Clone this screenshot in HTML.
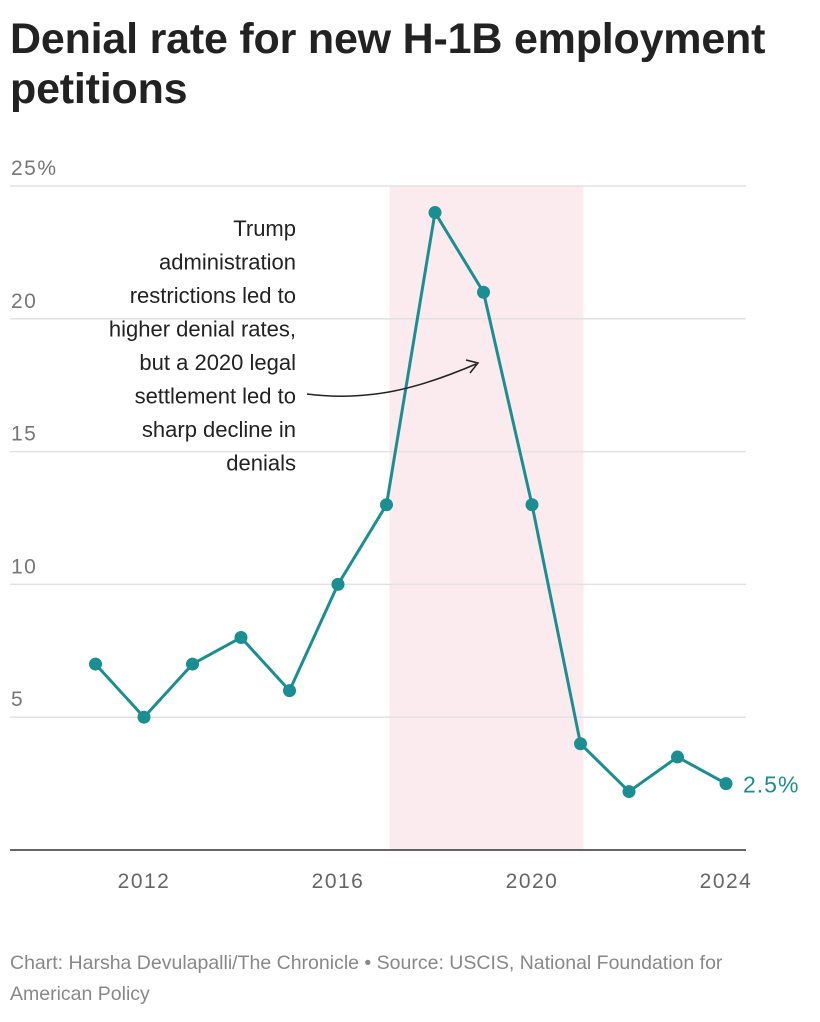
<!DOCTYPE html>
<html><head><meta charset="utf-8"><style>
body{margin:0;width:820px;height:1022px;background:#fff;font-family:"Liberation Sans",sans-serif;overflow:hidden}
h1{position:absolute;left:10px;top:14px;margin:0;font-size:43px;line-height:50px;font-weight:bold;color:#222;letter-spacing:-0.2px;width:800px}
.src{position:absolute;left:10px;top:948px;font-size:19.5px;line-height:31px;color:#888;width:785px}
</style></head><body>
<h1>Denial rate for new H-1B employment petitions</h1>
<svg id="c" width="820" height="1022" style="position:absolute;left:0;top:0"></svg>
<div class="src">Chart: Harsha Devulapalli/The Chronicle • Source: USCIS, National Foundation for American Policy</div>
<script>
const years=[2011,2012,2013,2014,2015,2016,2017,2018,2019,2020,2021,2022,2023,2024];
const rates=[7,5,7,8,6,10,13,24,21,13,4,2.2,3.5,2.5];
const yTicks=[5,10,15,20,25];
const yTickLabels=["5","10","15","20","25%"];
const xTicks=[2012,2016,2020,2024];
const shade=[2017,2021];
const note=["Trump","administration","restrictions led to","higher denial rates,","but a 2020 legal","settlement led to","sharp decline in","denials"];
const NS="http://www.w3.org/2000/svg";
const svg=document.getElementById('c');
const x=v=>144+(v-2012)*48.5;
const y=v=>850-v*26.56;
function mk(t,a,p){const e=document.createElementNS(NS,t);for(const k in a)e.setAttribute(k,a[k]);(p||svg).appendChild(e);return e;}
let r=mk('rect',{x:x(shade[0])+3,y:y(25),width:x(shade[1])-x(shade[0]),height:y(0)-y(25),fill:'#fbebee'});


yTicks.forEach((t,i)=>{
 let l=mk('line',{x1:10,x2:746,y1:y(t),y2:y(t),stroke:'#e2e2e2','stroke-width':1.5});
 
 
 let tx=mk('text',{x:11,y:y(t)-11,'font-size':21,fill:'#777','letter-spacing':'1.5'});tx.textContent=yTickLabels[i];
 
 
});
let ax=mk('line',{x1:10,x2:746,y1:y(0),y2:y(0),stroke:'#333','stroke-width':1.5});


xTicks.forEach(t=>{
 let tx=mk('text',{x:x(t),y:888,'font-size':21,fill:'#666','text-anchor':'middle','letter-spacing':'1.5'});tx.textContent=t;
 
 
});
let pl=mk('polyline',{points:years.map((v,i)=>x(v)+','+y(rates[i])).join(' '),fill:'none',stroke:'#1a8e91','stroke-width':3,'stroke-linejoin':'round'});


years.forEach((v,i)=>{
 let c=mk('circle',{cx:x(v),cy:y(rates[i]),r:6.5,fill:'#1a8e91'});
 
 
});
let lb=mk('text',{x:x(years[years.length-1])+17,y:y(rates[rates.length-1])+9,'font-size':23,fill:'#1a8e91','letter-spacing':'1'});
lb.textContent=rates[rates.length-1]+'%';


note.forEach((s,i)=>{
 let t=mk('text',{x:296,y:236+i*33.5,'font-size':22,fill:'#222','text-anchor':'end'});t.textContent=s;
 
 
});
let ar=mk('path',{d:'M307,394 C370,402 420,388 476,364 M466,360 L478,363 L470,373',fill:'none',stroke:'#222','stroke-width':1.5});


</script>
</body></html>
